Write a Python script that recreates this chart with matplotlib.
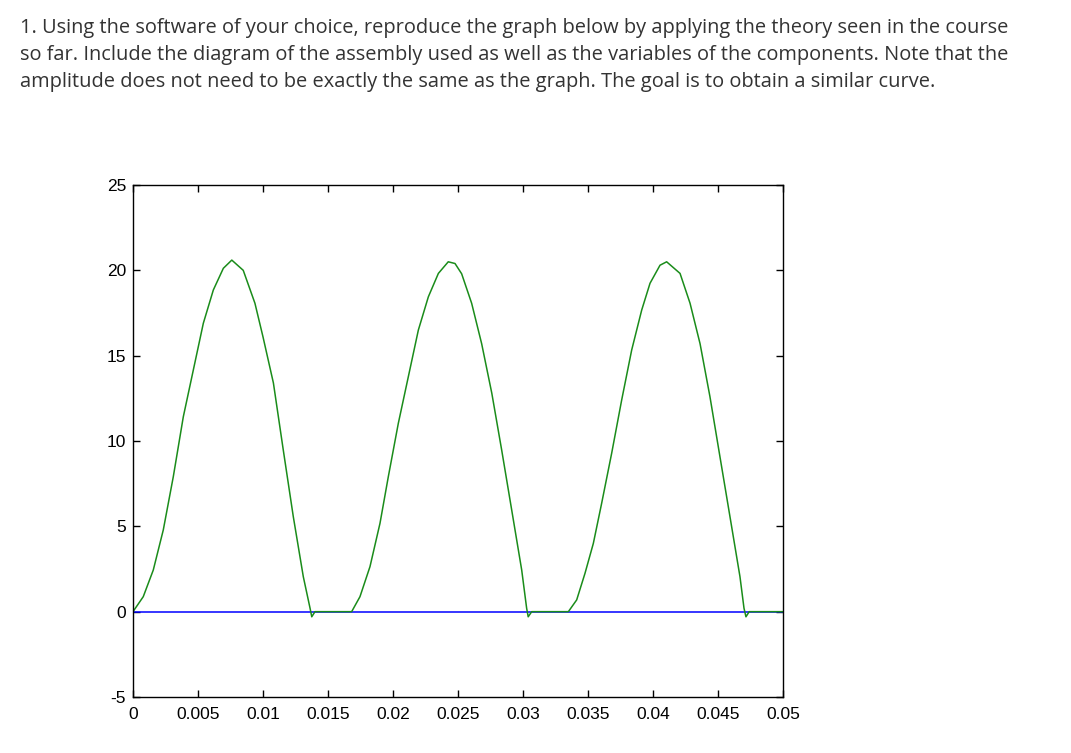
import matplotlib

matplotlib.use("Agg")
import matplotlib.pyplot as plt

plt.rcParams["axes.unicode_minus"] = False

# header text of the exercise
HEADER = [
    "1. Using the software of your choice, reproduce the graph below by applying the theory seen in the course",
    "so far. Include the diagram of the assembly used as well as the variables of the components. Note that the",
    "amplitude does not need to be exactly the same as the graph. The goal is to obtain a similar curve.",
]

# green curve (time in s, value)
t_green = [
    0.0, 0.00079, 0.00156, 0.00233, 0.0031, 0.00387, 0.00464, 0.00541, 0.00618, 0.00695,
    0.0076, 0.00848, 0.00938, 0.0100, 0.0108, 0.01156, 0.01233, 0.0131, 0.01362, 0.01375, 0.0140,
    0.01682, 0.01746, 0.01823, 0.0190, 0.01964, 0.02041, 0.02118, 0.02195, 0.02272, 0.02349,
    0.02425, 0.02477, 0.02528, 0.02605, 0.02682, 0.0276, 0.02836, 0.02913, 0.0299, 0.03028, 0.0304, 0.03067,
    0.03349, 0.03413, 0.03477, 0.03541, 0.03605, 0.03682, 0.03759, 0.03836, 0.03913, 0.03977,
    0.04054, 0.04105, 0.04208, 0.04285, 0.04362, 0.04438, 0.04515, 0.04592, 0.04669, 0.0470, 0.04715, 0.0474,
    0.05,
]
v_green = [
    0.0, 0.88, 2.44, 4.79, 7.91, 11.42, 14.16, 16.9, 18.85, 20.12,
    20.6, 20.0, 18.07, 16.1, 13.4, 9.47, 5.57, 2.05, 0.2, -0.3, 0.0,
    0.0, 0.88, 2.64, 5.18, 7.91, 11.04, 13.77, 16.5, 18.45, 19.82,
    20.5, 20.4, 19.8, 18.07, 15.7, 12.8, 9.47, 5.96, 2.44, 0.2, -0.3, 0.0,
    0.0, 0.69, 2.25, 4.0, 6.35, 9.28, 12.4, 15.33, 17.67, 19.24,
    20.3, 20.5, 19.82, 18.07, 15.7, 12.6, 9.08, 5.57, 2.05, 0.2, -0.3, 0.0,
    0.0,
]

# blue reference line
t_blue = [0.0, 0.05]
v_blue = [0.0, 0.0]

x_ticks = [0, 0.005, 0.01, 0.015, 0.02, 0.025, 0.03, 0.035, 0.04, 0.045, 0.05]
x_labels = ["0", "0.005", "0.01", "0.015", "0.02", "0.025", "0.03", "0.035", "0.04", "0.045", "0.05"]
y_ticks = [-5, 0, 5, 10, 15, 20, 25]

fig = plt.figure(figsize=(10.71, 7.53), dpi=100)

for i, line in enumerate(HEADER):
    fig.text(20 / 1071, 1 - (28 + 27 * i) / 753, line, fontsize=14.4, family="Open Sans",
             color="#333333", va="center", ha="left")

ax = fig.add_axes([133 / 1071, 1 - 697 / 753, 650 / 1071, 512 / 753])
ax.plot(t_blue, v_blue, color="#0000ff", linewidth=1.1)
ax.plot(t_green, v_green, color="#1a8c1a", linewidth=1.1)

ax.set_xlim(0, 0.05)
ax.set_ylim(-5, 25)
ax.set_xticks(x_ticks)
ax.set_xticklabels(x_labels)
ax.set_yticks(y_ticks)
ax.tick_params(direction="in", length=5, width=1, top=True, right=True,
               labelsize=12.5, colors="black")
ax.tick_params(axis="x", pad=7)
ax.tick_params(axis="y", pad=5)
for lab in ax.get_xticklabels() + ax.get_yticklabels():
    lab.set_family("Liberation Sans")
for spine in ax.spines.values():
    spine.set_linewidth(1)

fig.savefig("out.png", dpi=100)
